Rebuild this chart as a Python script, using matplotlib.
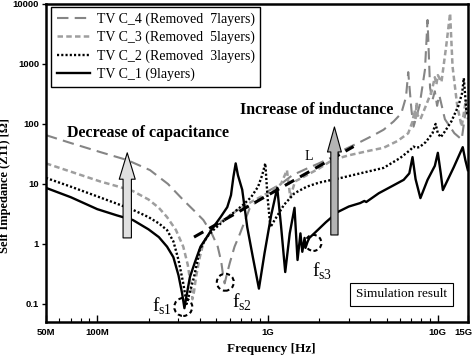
import numpy as np
import matplotlib
matplotlib.use("Agg")
import matplotlib.pyplot as plt
from matplotlib.patches import Circle
from matplotlib.transforms import ScaledTranslation
from matplotlib.ticker import FixedLocator, FixedFormatter, LogLocator, NullFormatter

plt.rcParams['mathtext.fontset'] = 'custom'
plt.rcParams['mathtext.rm'] = 'Liberation Serif'

SERIF = 'Liberation Serif'
SANS = 'Liberation Sans'

# ---------------- data ----------------
f_c1 = [5e7, 7e7, 1e8, 1.3e8, 1.62e8, 2e8, 2.3e8, 2.57e8, 2.8e8, 3.0e8, 3.15e8, 3.25e8, 3.35e8,
        3.5e8, 3.75e8, 4.04e8, 4.4e8, 4.8e8, 5.3e8, 5.8e8, 6.1e8, 6.3e8, 6.5e8, 6.7e8, 7.1e8,
        7.6e8, 8.2e8, 8.9e8, 9.6e8, 1.05e9, 1.14e9, 1.2e9, 1.27e9, 1.35e9, 1.44e9, 1.5e9, 1.56e9,
        1.6e9, 1.65e9, 1.67e9, 1.72e9, 1.76e9, 1.88e9, 2.2e9, 2.58e9, 3.0e9, 3.5e9, 3.7e9, 3.8e9,
        4.5e9, 5.5e9, 6.3e9, 6.8e9, 7.1e9, 7.4e9, 7.9e9, 8.7e9, 9.6e9, 1.0e10, 1.04e10, 1.07e10,
        1.24e10, 1.4e10, 1.45e10, 1.5e10]
z_c1 = [8.6, 6.0, 3.8, 3.0, 2.5, 1.75, 1.3, 0.9, 0.6, 0.3, 0.15, 0.085, 0.14,
        0.28, 0.5, 0.9, 1.3, 1.9, 2.8, 4.1, 6.5, 13, 22, 14, 8,
        1.9, 0.6, 0.18, 0.7, 3.0, 8.6, 2.0, 0.34, 1.5, 4.0, 0.54, 1.5,
        0.74, 1.26, 0.86, 1.1, 1.26, 1.5, 2.3, 3.4, 4.2, 4.8, 5.2, 5.0,
        7.0, 9.5, 11.7, 15, 28, 12, 5.8, 11.7, 20, 33, 15, 7.9,
        19, 41, 25, 17]

f_c2 = [5e7, 7e7, 1e8, 1.3e8, 1.62e8, 2e8, 2.3e8, 2.57e8, 2.8e8, 3.0e8, 3.2e8, 3.35e8, 3.5e8,
        3.7e8, 4.0e8, 4.4e8, 4.8e8, 5.5e8, 6.3e8, 7.2e8, 8.0e8, 8.8e8, 9.3e8, 9.7e8, 1.0e9,
        1.04e9, 1.1e9, 1.25e9, 1.44e9, 1.7e9, 2.0e9, 2.7e9, 3.5e9, 4.8e9, 6.0e9, 6.9e9, 7.2e9,
        7.4e9, 7.8e9, 8.5e9, 9.3e9, 9.7e9, 1.0e10, 1.04e10, 1.1e10, 1.2e10, 1.32e10, 1.39e10,
        1.42e10, 1.47e10, 1.5e10]
z_c2 = [12.6, 9.0, 6.2, 4.7, 3.7, 2.8, 2.2, 1.7, 1.1, 0.54, 0.22, 0.1, 0.16,
        0.28, 0.8, 1.3, 1.7, 2.4, 3.3, 4.5, 6.0, 9, 14, 22, 6,
        1.9, 2.5, 4.5, 7, 9, 10.5, 12.6, 15, 18.5, 27, 37, 42,
        40, 41, 50, 70, 100, 70, 60, 75, 110, 200, 330,
        580, 170, 140]

f_c3 = [5e7, 7e7, 1.04e8, 1.3e8, 1.62e8, 2e8, 2.3e8, 2.57e8, 2.9e8, 3.2e8, 3.4e8, 3.55e8, 3.62e8,
        3.7e8, 3.8e8, 4.0e8, 4.2e8, 4.8e8, 5.5e8, 6.5e8, 8e8, 1.0e9, 1.2e9, 1.3e9, 1.36e9,
        1.45e9, 1.7e9, 2.0e9, 2.4e9, 3.0e9, 4.0e9, 4.8e9, 5.8e9, 6.7e9, 7.1e9, 7.3e9, 7.4e9,
        7.5e9, 7.6e9, 7.9e9, 8.5e9, 9.2e9, 9.6e9, 9.8e9, 1.0e10, 1.05e10, 1.12e10, 1.18e10,
        1.22e10, 1.3e10, 1.38e10, 1.42e10, 1.46e10, 1.5e10]
z_c3 = [22, 16, 11, 9.2, 7.6, 5.5, 4.0, 2.8, 1.7, 0.9, 0.45, 0.2, 0.12,
        0.16, 0.28, 0.6, 1.04, 1.9, 2.5, 3.5, 5, 7, 10, 17, 6,
        11, 14, 18, 25, 30, 36, 40, 52, 70, 110, 170, 120,
        230, 140, 120, 200, 350, 600, 450, 650, 500, 2000, 7000,
        900, 200, 90, 150, 250, 120]

f_c4 = [5e7, 7e7, 1.04e8, 1.5e8, 2.04e8, 2.6e8, 3.2e8, 3.7e8, 4.2e8, 4.7e8, 5.1e8, 5.35e8, 5.5e8,
        5.6e8, 5.75e8, 6.0e8, 6.4e8, 6.9e8, 7.9e8, 9e8, 1.0e9, 1.2e9, 1.4e9, 1.7e9, 2.0e9,
        2.4e9, 2.8e9, 3.5e9, 4.2e9, 4.8e9, 5.5e9, 6.1e9, 6.5e9, 6.7e9, 7.0e9, 7.2e9, 7.8e9,
        8.4e9, 8.7e9, 9.0e9, 9.3e9, 9.6e9, 9.9e9, 1.02e10, 1.1e10, 1.25e10, 1.38e10, 1.45e10,
        1.5e10]
z_c4 = [65, 48, 34, 25, 17, 10, 5.4, 3.6, 2.5, 1.5, 0.9, 0.5, 0.28,
        0.22, 0.3, 0.48, 0.9, 1.5, 4.1, 5.5, 7.5, 10, 14, 18, 22,
        28, 37, 50, 65, 80, 110, 150, 280, 730, 170, 90, 200,
        800, 5400, 400, 250, 350, 200, 300, 120, 70, 55, 150,
        250]

f_L = [3.7e8, 3.2e9]
z_L = [1.3, 42]

labels = ['TV C_4 (Removed  7layers)', 'TV C_3 (Removed  5layers)',
          'TV C_2 (Removed  3layers)', 'TV C_1 (9layers)']

xtick_vals = [5e7, 1e8, 1e9, 1e10, 1.5e10]
xtick_labels = ['50M', '100M', '1G', '10G', '15G']
ytick_vals = [0.1, 1, 10, 100, 1000, 10000]
ytick_labels = ['0.1', '1', '10', '100', '1000', '10000']

# annotation anchors (frequency, impedance)
fs_points = [(3.2e8, 0.089, 0.09), (5.65e8, 0.23, 0.085), (1.86e9, 1.04, 0.08)]
fs_labels = [r'$\mathrm{f}_{\mathrm{s1}}$', r'$\mathrm{f}_{\mathrm{s2}}$', r'$\mathrm{f}_{\mathrm{s3}}$']
fs_text_pos = [(2.1e8, 0.073), (6.2e8, 0.086), (1.83e9, 0.28)]

# ---------------- figure ----------------
fig = plt.figure(figsize=(4.74, 3.56), dpi=100)
ax = fig.add_axes([0.097, 0.0955, 0.890, 0.8935])
ax.set_xscale('log')
ax.set_yscale('log')
ax.set_xlim(5e7, 1.5e10)
ax.set_ylim(0.05, 10000)

l4, = ax.plot(f_c4, z_c4, color='#858585', lw=1.5, dashes=(5.5, 3))
l3, = ax.plot(f_c3, z_c3, color='#9e9e9e', lw=1.8, dashes=(2.2, 1.3))
l2, = ax.plot(f_c2, z_c2, color='black', lw=1.7, dashes=(0.9, 0.9))
l1, = ax.plot(f_c1, z_c1, color='black', lw=1.7)
ax.plot(f_L, z_L, color='black', lw=2.2, dashes=(3.5, 2.2))

leg = ax.legend([l4, l3, l2, l1], labels, loc='upper left', bbox_to_anchor=(0.012, 0.99),
                borderaxespad=0, fancybox=False, edgecolor='black', framealpha=1,
                prop={'family': SERIF, 'size': 10}, handlelength=2.4, handletextpad=0.5,
                labelspacing=0.35, borderpad=0.4)
leg.get_frame().set_linewidth(1.0)

# axes styling
for s in ax.spines.values():
    s.set_linewidth(1.8)
ax.xaxis.set_major_locator(FixedLocator(xtick_vals))
ax.xaxis.set_major_formatter(FixedFormatter(xtick_labels))
ax.xaxis.set_minor_locator(LogLocator(base=10, subs=np.arange(2, 10), numticks=20))
ax.xaxis.set_minor_formatter(NullFormatter())
ax.yaxis.set_major_locator(FixedLocator(ytick_vals))
ax.yaxis.set_major_formatter(FixedFormatter(ytick_labels))
ax.yaxis.set_minor_locator(FixedLocator([]))
ax.tick_params(axis='x', which='major', direction='in', length=5, width=1.0, pad=4)
ax.tick_params(axis='x', which='minor', direction='in', length=3, width=0.8)
ax.tick_params(axis='y', which='major', direction='out', length=3, width=1.0, pad=2)
for t in ax.get_xticklabels() + ax.get_yticklabels():
    t.set_fontfamily(SANS)
    t.set_fontweight('bold')
    t.set_fontsize(6.8)
# keep the last x label inside the figure
last = ax.get_xticklabels()[-1]
last.set_transform(last.get_transform() + ScaledTranslation(-4 / 100, 0, fig.dpi_scale_trans))

ax.set_xlabel('Frequency [Hz]', fontfamily=SERIF, fontweight='bold', fontsize=9.5)
ax.xaxis.set_label_coords(0.535, -0.066)
ax.set_ylabel('Self Impedance (Z11) [Ω]', fontfamily=SERIF, fontweight='bold', fontsize=9)
ax.yaxis.set_label_coords(-0.083, 0.43)

# texts
ax.text(0.05, 0.594, 'Decrease of capacitance', transform=ax.transAxes, fontfamily=SERIF,
        fontweight='bold', fontsize=11.5, va='center', ha='left')
ax.text(0.46, 0.667, 'Increase of inductance', transform=ax.transAxes, fontfamily=SERIF,
        fontweight='bold', fontsize=11.5, va='center', ha='left')
ax.text(0.623, 0.519, 'L', transform=ax.transAxes, fontfamily=SERIF, fontsize=10,
        va='center', ha='center')
ax.text(0.842, 0.0865, 'Simulation result', transform=ax.transAxes, fontfamily=SERIF,
        fontsize=9.5, va='center', ha='center',
        bbox=dict(boxstyle='square,pad=0.45', fc='white', ec='black', lw=0.8))

# arrows
ax.annotate('', xy=(1.5e8, 33), xytext=(1.5e8, 1.26),
            arrowprops=dict(arrowstyle='simple,head_length=1.9,head_width=1.15,tail_width=0.6',
                            fc='#e0e0e0', ec='black', lw=0.8, shrinkA=0, shrinkB=0,
                            mutation_scale=10))
ax.annotate('', xy=(2.47e9, 89), xytext=(2.47e9, 1.41),
            arrowprops=dict(arrowstyle='simple,head_length=1.8,head_width=1.0,tail_width=0.52',
                            fc='#b4b4b4', ec='black', lw=0.8, shrinkA=0, shrinkB=0,
                            mutation_scale=10))

# fs circles and labels
for (fx, zy, r), lab, (tx, ty) in zip(fs_points, fs_labels, fs_text_pos):
    trans = fig.dpi_scale_trans + ScaledTranslation(fx, zy, ax.transData)
    c = Circle((0, 0), r, transform=trans, fill=False, ec='black', lw=1.5,
               linestyle=(0, (2.0, 1.5)), clip_on=False, zorder=5)
    ax.add_patch(c)
    ax.text(tx, ty, lab, fontsize=14, ha='left', va='baseline')

fig.savefig('out.png', dpi=100)
